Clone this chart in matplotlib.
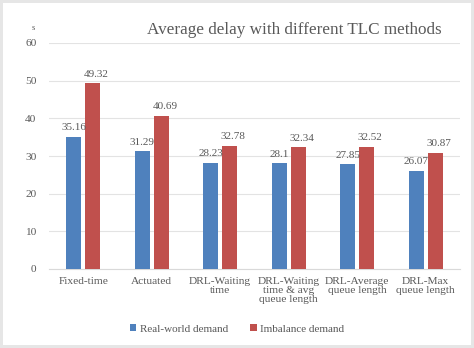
import numpy as np
import matplotlib
matplotlib.use('Agg')
import matplotlib.pyplot as plt

# data
categories = ['Fixed-time', 'Actuated', 'DRL-Waiting\ntime', 'DRL-Waiting\ntime & avg\nqueue length',
              'DRL-Average\nqueue length', 'DRL-Max\nqueue length']
real_world = [35.16, 31.29, 28.23, 28.1, 27.85, 26.07]
imbalance = [49.32, 40.69, 32.78, 32.34, 32.52, 30.87]
series_names = ['Real-world demand', 'Imbalance demand']

blue = '#4f81bd'
red = '#c0504d'
txt = '#595959'

plt.rcParams['font.family'] = ['Liberation Serif', 'DejaVu Serif']

fig = plt.figure(figsize=(4.74, 3.48), dpi=100)
fig.patch.set_edgecolor('#e6e6e6')
fig.patch.set_linewidth(3)
ax = fig.add_axes([49/474, 1 - 269/348, 411/474, (269 - 43)/348])

x = np.arange(len(categories))
w = 0.22
gap = 0.03
b1 = ax.bar(x - w/2 - gap, real_world, w, color=blue, label=series_names[0], zorder=3)
b2 = ax.bar(x + w/2 + gap, imbalance, w, color=red, label=series_names[1], zorder=3)

for rect, v in zip(b1, real_world):
    ax.text(rect.get_x() + rect.get_width()/2, v + 1.2, f'{v:g}', ha='center', va='bottom',
            fontsize=8, color=txt, zorder=4)
for rect, v in zip(b2, imbalance):
    ax.text(rect.get_x() + rect.get_width()/2 + 0.05, v + 1.2, f'{v:g}', ha='center', va='bottom',
            fontsize=8, color=txt, zorder=4)

ax.set_xlim(-0.5, len(categories) - 0.5)
ax.set_ylim(0, 60)
ax.set_yticks(np.arange(0, 61, 10))
ax.yaxis.grid(True, color='#e3e3e3', linewidth=0.8, zorder=0)
ax.set_xticks(x)
ax.set_xticklabels(categories, fontsize=8.2, color=txt, linespacing=1.0)
ax.tick_params(axis='both', length=0, labelsize=8.2, colors=txt)
ax.tick_params(axis='y', pad=9)
ax.tick_params(axis='x', pad=6)
for s in ['top', 'right', 'left']:
    ax.spines[s].set_visible(False)
ax.spines['bottom'].set_color('#d9d9d9')

fig.text(147/474, 1 - 30/348, 'Average delay with different TLC methods', fontsize=12.3,
         color=txt, va='center', ha='left')
fig.text(33/474, 1 - 28/348, 's', fontsize=6, color=txt, va='center', ha='center')

fig.legend(loc='center', bbox_to_anchor=(237/474, 1 - 329/348), ncol=2, frameon=False,
           fontsize=8, handlelength=0.6, handleheight=0.6, handletextpad=0.3,
           columnspacing=2.0, labelcolor=txt)

fig.savefig('out.png', dpi=100)
